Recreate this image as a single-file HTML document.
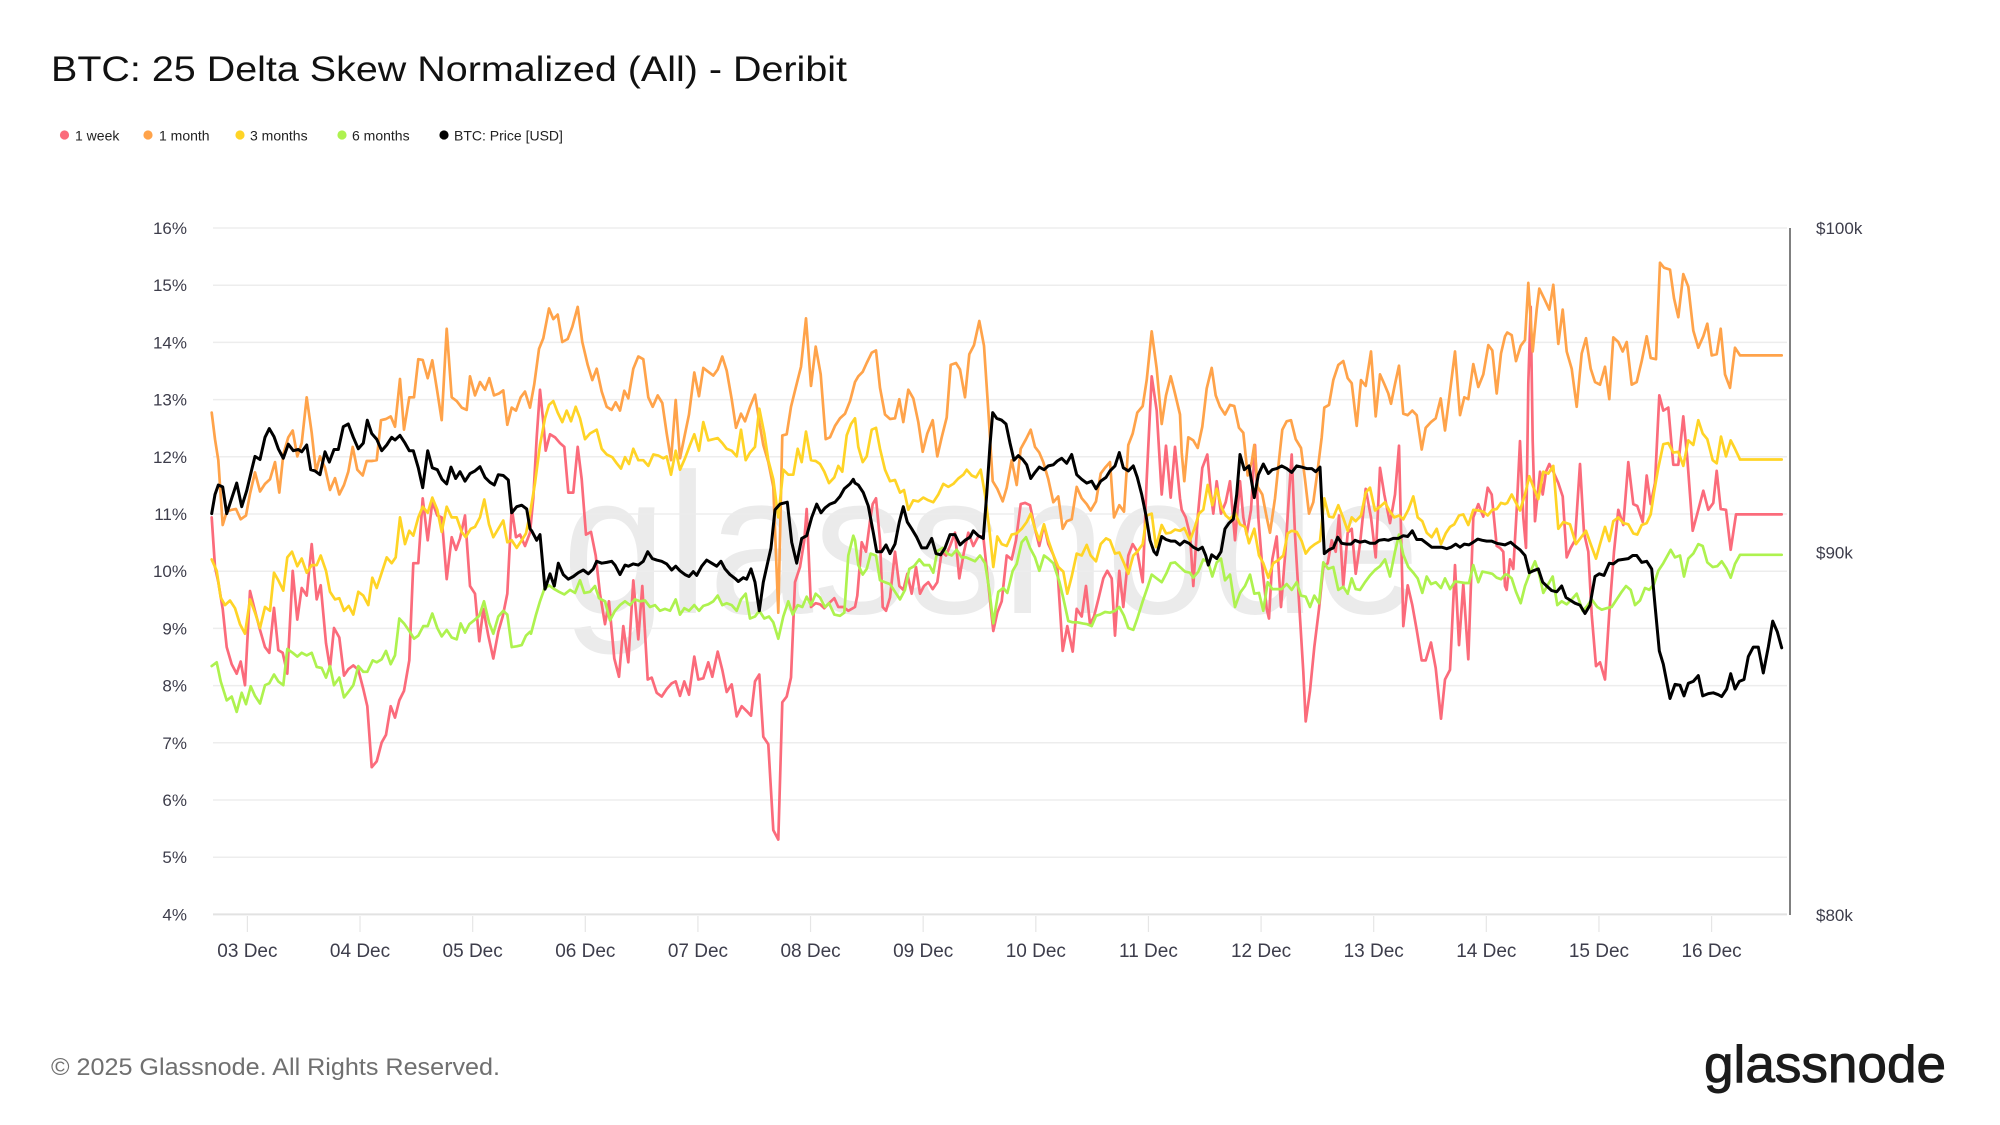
<!DOCTYPE html>
<html>
<head>
<meta charset="utf-8">
<style>
  html,body{margin:0;padding:0;background:#fff;}
  body{width:2000px;height:1125px;overflow:hidden;}
  svg{display:block;font-family:"Liberation Sans",Arial,sans-serif;}
</style>
</head>
<body>
<svg id="chart" width="2000" height="1125" viewBox="0 0 2000 1125" xmlns="http://www.w3.org/2000/svg">
  <rect x="0" y="0" width="2000" height="1125" fill="#ffffff"/>

  <!-- Title -->
  <text x="51" y="81" font-size="35" fill="#111" textLength="796" lengthAdjust="spacingAndGlyphs">BTC: 25 Delta Skew Normalized (All) - Deribit</text>

  <!-- Legend -->
  <g font-size="14" fill="#222">
    <circle cx="64.5" cy="135" r="4.6" fill="#fb6b7b"/>
    <text x="75" y="140.5">1 week</text>
    <circle cx="148" cy="135" r="4.6" fill="#ffa34a"/>
    <text x="159" y="140.5">1 month</text>
    <circle cx="240" cy="135" r="4.6" fill="#ffd426"/>
    <text x="250" y="140.5">3 months</text>
    <circle cx="342" cy="135" r="4.6" fill="#aef24f"/>
    <text x="352" y="140.5">6 months</text>
    <circle cx="444" cy="135" r="4.6" fill="#000"/>
    <text x="454" y="140.5">BTC: Price [USD]</text>
  </g>

  <!-- Watermark -->
  <text x="562" y="613" font-size="200" fill="#ebebeb" textLength="858" lengthAdjust="spacingAndGlyphs">glassnode</text>

  <g id="grid"></g>
  <g id="axes"></g>
  <g id="series"></g>

  <!-- Footer -->
  <text x="51" y="1075" font-size="24" fill="#707070" textLength="449" lengthAdjust="spacingAndGlyphs">© 2025 Glassnode. All Rights Reserved.</text>
  <text x="1704" y="1082" font-size="52" fill="#1b1b1b" stroke="#1b1b1b" stroke-width="0.9" textLength="242" lengthAdjust="spacingAndGlyphs">glassnode</text>
</svg>

<script>
(function(){
  var NS="http://www.w3.org/2000/svg";
  function el(tag,attrs,parent,text){
    var e=document.createElementNS(NS,tag);
    for(var k in attrs){e.setAttribute(k,attrs[k]);}
    if(text!==undefined){e.textContent=text;}
    parent.appendChild(e);return e;
  }
  var grid=document.getElementById("grid");
  var axes=document.getElementById("axes");
  var series=document.getElementById("series");

  for(var k=0;k<=12;k++){
    var y=228+k*57.2;
    el("line",{x1:213,x2:1787,y1:y,y2:y,stroke:(k==12?"#e2e2e2":"#ededed"),"stroke-width":(k==12?2:1.5)},grid);
    el("text",{x:187,y:y+6,"font-size":17,fill:"#3d3d4b","text-anchor":"end"},axes,(16-k)+"%");
  }
  el("line",{x1:1790,x2:1790,y1:228,y2:915,stroke:"#4a4a4a","stroke-width":1.4},axes);
  var rl=[["$100k",228],["$90k",552.4],["$80k",915]];
  rl.forEach(function(r){
    el("text",{x:1816,y:r[1]+6,"font-size":17,fill:"#3d3d4b"},axes,r[0]);
  });
  var days=["03 Dec","04 Dec","05 Dec","06 Dec","07 Dec","08 Dec","09 Dec","10 Dec","11 Dec","12 Dec","13 Dec","14 Dec","15 Dec","16 Dec"];
  for(var i=0;i<days.length;i++){
    var x=247.4+i*112.63;
    el("line",{x1:x,x2:x,y1:916,y2:932,stroke:"#e6e6e6","stroke-width":1.2},grid);
    el("text",{x:x,y:957,"font-size":19,fill:"#3d3d4b","text-anchor":"middle"},axes,days[i]);
  }

  var S=[
  {x0:200,
   black:[35,690,45,640,55,615,68,620,80,690,95,650,110,610,125,672,140,630,155,575,165,540,180,548,195,490,208,467,222,488,235,520,250,545,265,508,280,525,295,522,305,528,320,510,332,575,345,578,360,588,375,528,388,555,402,522,415,522,430,462,445,455,460,490,475,520,490,505,502,445,515,480,530,495,545,525,560,510,575,490,585,497,600,485,615,505,628,525,640,525,655,570,668,622,683,525,697,570,712,575,726,600,740,612,753,568,767,598,780,580,795,605,810,585,825,578,840,567,855,595,870,608,883,615,895,588,910,590,925,602,935,688,950,672,965,668,980,678,990,730],
   orange:[35,425,45,495,55,550,68,720,80,685,95,680,108,678,122,705,138,695,150,638,165,582,180,632,195,612,210,600,225,555,238,635,250,535,265,490,278,472,292,540,305,505,320,385,335,478,348,580,360,540,375,570,390,628,405,597,418,640,432,615,445,580,458,515,472,575,488,590,500,552,515,552,530,550,543,445,558,442,572,435,585,462,600,337,612,470,628,385,642,385,655,285,668,287,683,335,697,288,712,370,725,445,740,205,755,385,770,395,785,412,800,418,810,330,825,380,840,345,855,365,868,335,882,380,897,375,910,367,922,457,935,412,948,420,962,385,975,370,990,412],
   yellow:[35,810,50,840,62,910,75,930,90,918,105,938,120,980,135,1005,150,915,165,950,180,990,195,935,210,945,222,845,235,865,250,892,262,805,276,790,292,828,305,808,320,845,335,825,350,825,362,800,378,840,390,895,405,915,418,912,432,945,446,932,460,955,475,895,490,905,505,930,517,858,530,885,545,845,560,805,575,820,587,805,600,700,615,770,628,735,640,748,655,700,668,672,683,688,697,648,712,680,725,738,740,672,755,700,770,700,785,738,797,752,812,730,825,725,840,700,853,653,867,718,880,752,895,730,910,708,922,765,935,760,950,780,965,760,978,742,990,690],
   red:[35,700,45,830,55,870,68,940,80,1040,95,1085,110,1110,122,1078,135,1140,150,893,165,945,180,995,195,1040,208,1055,222,937,235,1048,248,1055,262,1110,278,840,292,968,305,885,320,905,335,770,350,915,362,878,378,1030,390,1095,402,990,418,1015,432,1115,445,1098,460,1088,475,1100,490,1150,502,1195,515,1355,530,1340,545,1290,558,1270,572,1195,585,1225,598,1180,612,1155,628,1075,640,820,655,820,668,650,683,760,697,660,712,695,725,700,740,862,755,752,768,785,780,755,795,695,810,880,825,900,838,1025,850,940,865,1010,880,1070,895,1000,908,960,922,900,935,675,948,752,960,745,975,775,990,740],
   green:[35,1090,50,1080,62,1130,80,1180,95,1170,110,1210,125,1160,138,1190,152,1143,165,1168,180,1188,195,1140,208,1135,222,1112,235,1130,250,1140,262,1045,278,1055,292,1065,305,1055,320,1062,335,1055,350,1092,365,1095,378,1120,390,1090,402,1140,418,1120,432,1172,445,1158,460,1140,475,1090,490,1105,502,1105,518,1075,530,1080,545,1072,558,1050,572,1085,585,1062,598,965,612,978,628,998,642,1018,655,1010,670,985,683,985,697,952,712,990,725,1012,740,995,755,1015,770,1020,782,978,795,1002,808,980,822,970,838,958,852,920,867,975,880,1005,895,960,910,945,922,955,935,1040,950,1038,965,1035,978,1010,990,1000]
  },
  {x0:525,
   black:[0,675,10,700,20,735,35,760,45,745,60,888,75,848,88,880,100,820,115,850,130,862,145,855,160,845,175,838,190,848,205,835,215,815,230,820,245,818,260,815,270,825,285,850,300,825,310,828,325,822,340,825,355,815,368,790,382,808,395,812,410,815,425,822,440,838,452,828,465,840,480,850,492,855,505,842,515,852,530,828,545,812,560,820,575,828,588,815,600,835,615,850,630,860,640,868,655,858,665,862,678,835,690,870,703,945,715,870,725,830,738,780,750,680,765,665,787,660,800,765,815,820,830,755,845,748,860,700,875,665,888,688,900,675,915,665,930,660,945,645,958,625,975,612,985,600,990,610],
   orange:[0,370,15,410,28,350,42,258,55,230,72,152,85,180,98,168,112,240,128,232,142,200,158,148,172,240,188,300,202,340,215,310,230,370,245,410,260,418,272,398,285,420,298,368,310,388,325,310,340,278,355,285,370,385,383,410,398,380,412,400,425,480,438,550,452,392,465,545,478,490,492,430,508,320,522,382,535,308,550,318,565,328,578,312,592,278,605,315,620,390,633,465,648,428,660,448,675,410,690,378,703,450,715,510,730,555,745,620,760,950,772,485,785,482,798,410,812,360,828,305,843,178,858,355,872,252,887,325,902,495,915,490,930,460,945,440,960,428,975,395,990,345],
   yellow:[0,690,15,660,30,610,45,510,60,440,72,405,85,395,98,425,112,450,125,420,138,448,152,410,165,440,180,495,195,480,215,470,230,520,245,535,262,542,275,558,288,572,300,542,312,560,325,520,340,550,355,550,370,565,385,535,400,538,415,545,425,540,438,588,452,525,465,575,480,545,495,510,508,482,522,525,535,450,550,498,565,495,578,492,592,505,605,520,620,525,635,540,648,470,662,550,675,530,690,515,703,415,718,480,730,550,745,600,760,700,775,575,790,588,805,588,818,520,830,555,843,475,858,550,872,552,885,560,898,580,912,610,928,595,940,565,952,580,965,485,978,455,990,440],
   red:[0,775,10,760,25,650,35,490,45,365,55,450,62,525,75,482,90,490,105,505,118,515,130,635,145,635,158,515,170,600,183,745,198,738,212,800,225,900,240,980,252,920,268,1070,282,1118,295,985,310,1080,325,865,340,1020,352,880,368,1125,380,1120,395,1160,410,1170,425,1150,440,1135,452,1130,465,1168,478,1130,492,1165,508,1065,520,1125,535,1122,550,1080,562,1118,578,1052,592,1100,605,1158,620,1138,635,1222,650,1195,665,1208,678,1220,690,1130,703,1112,715,1275,730,1295,745,1520,760,1545,772,1185,785,1170,798,1120,810,870,825,830,838,760,845,678,858,935,872,925,885,928,898,938,912,925,928,912,940,935,955,935,970,945,990,935],
   green:[0,1020,18,1005,32,958,45,920,58,888,72,878,88,888,102,895,118,902,135,890,150,898,165,865,178,898,195,895,210,880,222,912,240,920,255,970,270,945,285,930,300,920,315,930,330,915,345,920,360,918,375,935,390,930,405,945,420,940,435,945,452,915,465,955,478,938,492,945,508,930,522,945,535,932,550,928,565,920,578,905,592,930,605,925,620,930,635,945,648,915,662,900,675,965,690,960,703,945,718,965,732,960,745,975,760,1018,775,960,790,920,803,955,818,930,832,935,845,908,858,930,872,900,885,910,900,935,912,925,928,955,945,958,958,950,970,800,985,748,990,760]
  },
  {x0:850,
   black:[0,600,10,598,25,615,40,635,55,670,70,740,80,790,95,790,108,772,120,795,135,770,148,712,160,672,172,712,185,730,200,752,215,780,230,780,245,755,258,795,272,798,285,780,300,745,315,745,330,772,345,760,360,752,370,735,385,748,400,755,410,640,420,510,428,425,440,440,455,445,468,455,480,505,492,550,505,538,518,548,530,562,542,598,555,582,568,568,582,575,595,565,610,562,622,552,635,545,650,558,665,535,680,588,695,600,710,610,725,605,738,625,752,605,768,595,780,578,795,565,808,530,820,570,835,578,850,565,862,595,875,640,888,695,900,760,912,790,920,798,935,750,948,758,962,762,975,762,990,772],
   orange:[0,400,10,360,25,330,38,318,50,295,65,268,78,262,90,360,105,430,120,442,135,440,148,390,160,450,175,365,190,388,205,450,218,528,232,480,248,445,262,540,275,490,290,438,302,300,318,295,330,312,345,385,358,272,372,248,388,185,402,250,415,420,428,605,442,625,458,658,470,622,485,550,500,615,512,520,528,495,542,470,555,515,568,530,580,555,595,600,610,660,625,645,638,730,650,710,665,705,680,620,695,650,710,665,722,682,738,658,752,585,765,570,780,555,792,700,808,668,822,685,835,510,848,480,862,425,878,408,890,340,905,212,920,310,935,455,948,380,962,330,975,375,990,430],
   yellow:[0,455,12,480,25,515,38,555,50,540,65,470,78,465,90,520,105,575,120,605,135,602,150,635,162,628,175,680,190,655,205,658,220,648,235,655,250,660,265,640,280,612,295,620,310,612,325,598,340,588,350,575,365,590,378,595,392,575,405,640,418,730,430,830,442,750,455,770,470,775,485,745,500,742,515,730,530,712,542,690,555,730,568,760,582,718,595,760,610,798,625,830,640,842,652,900,665,855,680,795,695,800,710,772,722,800,738,815,752,770,768,755,780,760,795,795,808,792,822,820,835,848,850,800,862,790,878,770,890,695,905,690,918,778,935,720,948,742,962,740,975,732,990,735],
   red:[0,940,10,935,22,905,35,765,48,790,60,710,68,665,78,650,90,760,98,935,108,945,120,910,135,790,148,880,160,890,172,848,185,900,198,830,210,900,222,880,235,870,248,888,262,870,275,790,288,800,300,775,315,740,328,860,342,790,355,740,370,775,385,750,400,750,412,850,422,935,430,998,442,950,455,920,470,800,485,810,498,760,512,665,525,662,540,668,555,730,568,775,582,720,595,770,610,798,622,830,638,1050,652,985,668,1052,680,940,695,960,708,880,720,980,732,960,745,915,760,860,772,840,785,860,795,1010,808,840,820,935,835,800,848,770,862,790,878,870,890,600,905,330,920,420,935,640,948,512,962,648,975,515,990,650],
   green:[0,750,12,790,25,825,38,850,50,835,62,795,78,800,90,865,105,870,120,875,135,895,150,915,165,890,178,835,192,828,208,810,222,825,238,825,250,845,262,788,278,780,292,795,305,800,320,785,335,805,348,805,362,810,375,815,390,800,405,820,418,890,430,978,445,895,460,885,472,898,488,840,500,822,515,765,528,752,540,780,555,805,568,840,582,800,595,808,610,820,628,868,640,912,655,972,668,975,682,975,698,978,712,980,725,985,738,958,750,955,765,948,780,950,795,945,808,935,822,958,835,990,850,995,862,965,878,920,892,885,905,850,920,860,935,870,950,845,962,820,975,818,990,830]
  },
  {x0:1175,
   black:[0,765,15,770,28,762,42,768,55,778,70,785,82,778,92,800,100,825,110,798,125,808,138,790,150,730,162,715,175,705,185,640,195,535,208,575,222,565,238,648,250,588,265,560,280,585,292,575,305,572,320,565,335,572,350,582,365,565,380,568,395,572,410,572,422,580,435,568,448,795,462,785,475,780,488,752,500,768,515,770,528,770,540,760,555,765,570,762,585,768,600,768,612,760,628,758,640,760,655,755,670,755,685,748,698,750,712,735,725,758,740,758,755,768,770,778,785,778,800,778,815,782,828,778,842,770,855,778,868,770,882,772,895,765,908,757,922,760,935,762,950,762,965,768,978,770,990,772],
   orange:[0,370,12,435,20,530,28,605,40,490,55,498,68,518,82,462,95,362,110,308,122,380,135,410,150,430,165,405,178,408,192,465,205,478,218,590,230,555,238,510,248,620,262,640,275,700,285,740,300,650,312,550,322,470,335,448,348,445,362,495,378,518,390,600,402,690,415,660,428,575,440,490,448,412,462,405,475,340,490,300,505,290,518,335,530,348,545,460,558,340,572,355,588,265,602,435,615,325,628,350,640,375,648,402,660,350,672,302,685,428,698,432,712,420,725,432,740,522,752,465,768,450,782,440,797,388,810,472,825,370,840,265,855,432,868,385,880,390,895,298,910,358,925,325,940,248,952,262,965,375,978,270,990,225],
   yellow:[0,740,15,735,28,728,45,760,58,730,72,690,85,680,98,615,112,668,125,625,140,675,152,695,165,705,180,688,195,718,210,725,222,768,238,730,252,800,265,820,280,858,295,820,310,812,325,800,338,742,350,735,365,738,380,762,392,795,405,780,420,770,435,762,448,650,462,698,475,700,490,668,505,702,518,735,530,700,542,710,558,695,572,635,585,622,600,682,615,672,630,660,643,682,658,700,672,695,685,705,700,680,715,645,728,700,742,710,755,740,770,752,785,730,798,770,812,742,825,725,838,718,852,695,865,692,880,720,895,680,910,682,925,685,938,695,952,680,965,678,978,662,990,665],
   red:[0,510,10,600,20,680,32,700,45,745,55,880,68,700,82,570,97,535,108,640,115,690,125,605,138,690,152,660,165,605,180,760,195,605,205,700,215,745,228,680,240,510,250,700,262,830,275,940,282,965,292,810,305,750,318,935,332,780,342,640,350,535,360,745,372,920,385,1105,392,1235,405,1155,418,1040,432,940,445,830,458,820,470,760,482,790,492,695,505,880,518,740,530,730,542,848,555,770,572,625,588,700,602,805,615,570,628,640,645,715,660,640,672,512,685,985,698,878,712,930,725,995,740,1075,752,1075,768,1028,782,1095,798,1228,810,1125,825,1100,840,825,852,1035,865,875,880,1072,895,700,910,665,925,698,938,622,950,640,965,775,975,780,985,790,990,880],
   green:[0,820,15,835,30,842,45,845,55,858,70,842,85,810,100,818,112,855,125,818,138,808,150,865,165,850,180,935,195,898,210,880,225,850,238,900,252,898,265,945,278,870,292,888,305,888,320,888,335,875,350,890,365,870,378,905,392,908,405,935,418,905,432,925,445,818,460,835,475,830,490,890,505,882,518,900,530,860,542,888,555,890,570,870,585,852,600,838,615,828,630,810,645,855,660,790,672,745,685,798,700,830,715,845,728,860,742,898,755,855,768,875,782,870,798,885,810,860,825,888,840,868,855,870,870,872,882,872,895,825,910,870,922,842,938,845,952,848,965,858,978,862,990,850]
  },
  {x0:1500,
   black:[0,768,15,770,32,765,45,775,60,785,75,800,88,845,100,840,115,835,128,870,140,880,155,892,170,895,185,880,198,910,212,918,225,925,240,930,255,952,270,930,285,855,298,848,312,852,328,820,340,822,355,812,370,810,385,808,398,800,410,800,425,818,440,815,455,835,465,930,478,1050,490,1085,510,1175,525,1138,540,1140,552,1168,565,1135,580,1130,595,1115,608,1168,625,1162,640,1160,655,1165,665,1170,680,1150,692,1110,705,1150,718,1130,732,1125,745,1065,760,1040,775,1040,790,1108,805,1040,818,972,832,1000,845,1042],
   orange:[0,340,12,255,22,215,35,222,48,290,62,250,75,235,85,85,98,265,110,155,118,100,132,125,148,155,160,90,175,245,188,155,200,265,215,310,230,410,245,270,258,230,272,310,285,345,300,352,315,305,328,390,340,228,355,240,368,265,380,240,395,352,410,345,425,290,440,225,452,282,468,285,480,32,492,45,510,50,522,125,535,175,550,62,565,95,580,210,595,255,610,225,622,192,635,275,650,272,662,205,675,325,690,360,705,255,720,275,845,275],
   yellow:[0,668,12,662,22,662,35,640,48,662,60,682,75,640,88,592,100,620,115,652,130,580,145,585,160,565,175,730,190,712,210,718,228,770,245,750,258,735,272,770,288,808,300,770,315,725,328,762,340,710,355,700,370,715,385,718,400,742,412,745,425,720,440,715,452,692,462,635,475,570,490,508,505,505,520,530,535,528,550,565,565,498,580,510,595,445,608,480,622,495,638,550,650,558,663,488,678,540,692,498,705,520,720,548,845,548],
   red:[0,760,10,860,20,890,30,810,40,835,50,680,60,500,70,700,78,780,85,350,92,148,98,500,105,710,112,650,120,580,128,640,138,580,148,560,160,580,175,610,188,645,200,805,212,780,225,760,240,560,252,740,265,790,275,955,288,1090,300,1080,315,1125,328,950,342,790,355,680,370,720,385,555,400,665,412,670,428,712,440,590,452,665,465,610,478,380,490,420,505,412,520,562,535,562,550,435,562,545,578,735,595,680,610,630,625,680,640,662,650,578,662,678,678,680,692,785,708,692,720,692,845,692],
   green:[0,860,10,868,22,850,35,860,48,895,62,925,75,880,90,845,105,815,118,850,130,898,145,875,158,855,172,930,185,920,200,928,215,915,230,900,248,945,262,932,275,915,292,935,305,942,320,938,335,935,350,915,365,895,378,880,392,890,405,930,420,918,435,885,448,890,462,875,475,840,490,820,512,785,525,805,540,800,552,855,565,808,580,795,595,770,608,775,622,818,638,830,652,828,665,815,680,835,692,858,705,822,720,798,845,798]
  }
  ];

  function build(name){
    var pts=[];var lastX=-1;
    S.forEach(function(seg){
      var a=seg[name];
      for(var i=0;i<a.length;i+=2){
        var x=seg.x0+a[i]/3;
        var y=250.5+a[i+1]*0.3813;
        if(x>lastX+0.5){pts.push(x.toFixed(1)+","+y.toFixed(1));lastX=x;}
      }
    });
    return pts.join(" ");
  }
  var defs=[["red","#fb6b7b",2.7],["orange","#ffa34a",2.7],["yellow","#ffd426",2.7],["green","#aef24f",2.7],["black","#000000",3]];
  defs.forEach(function(d){
    el("polyline",{points:build(d[0]),fill:"none",stroke:d[1],"stroke-width":d[2],"stroke-linejoin":"round","stroke-linecap":"round"},series);
  });
})();
</script>
</body>
</html>
